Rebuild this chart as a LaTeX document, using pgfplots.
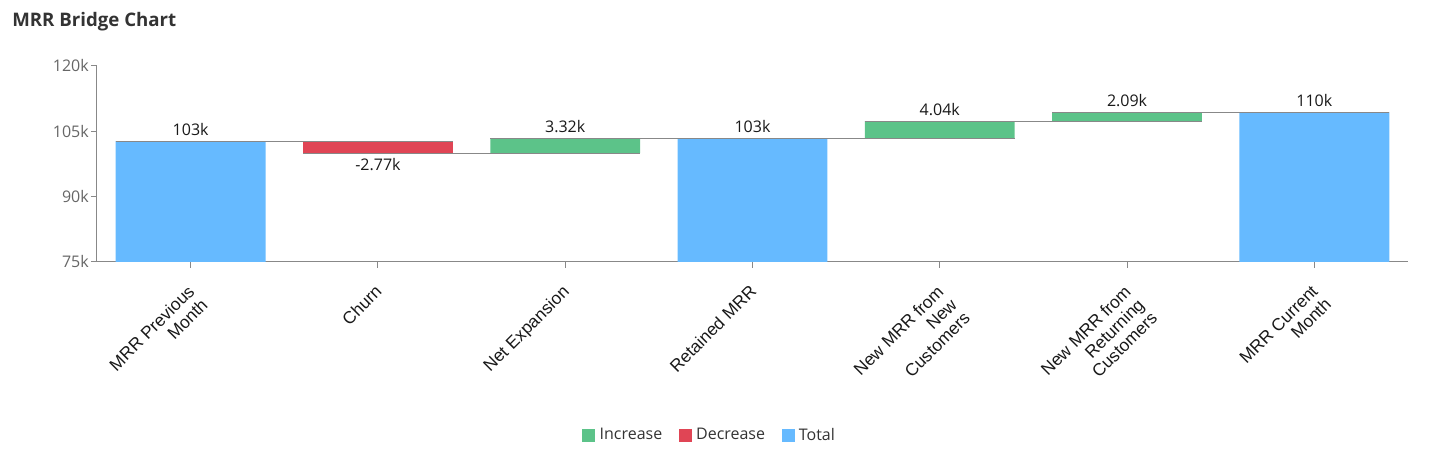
\documentclass[border=0pt]{standalone}
\usepackage{pgfplots}
\pgfplotsset{compat=1.18}
\usepackage{pgfplotstable}
\usepackage{fontspec}
\setmainfont{Open Sans}
\newfontfamily\catfont{Liberation Sans}
\definecolor{incgreen}{HTML}{5CC389}
\definecolor{decred}{HTML}{E04555}
\definecolor{totblue}{HTML}{66BAFF}
\definecolor{axgray}{HTML}{888888}
\definecolor{ticktext}{HTML}{666666}
\definecolor{titletext}{HTML}{333333}

\pgfplotstableread{
x base inc dec tot
0 0 0 0 102.75
1 99.98 0 2.77 0
2 99.98 3.32 0 0
3 0 0 0 103.30
4 103.30 4.04 0 0
5 107.34 2.09 0 0
6 0 0 0 109.43
}\bridge

\begin{document}
\begin{tikzpicture}
\useasboundingbox (0,0) rectangle (1084.5pt,337.5pt);
\node[anchor=west, font=\bfseries\fontsize{14}{16}\selectfont, text=titletext, inner sep=0pt] at (9pt,321pt) {MRR Bridge Chart};
\pgfplotsset{common/.style={
  scale only axis, width=983.25pt, height=147pt,
  at={(72.75pt,141pt)}, anchor=south west,
  xmin=-0.5, xmax=6.5, ymin=75, ymax=120,
}}
\begin{axis}[common,
  ybar stacked, bar width=0.8,
  axis x line*=bottom, axis y line*=left,
  axis line style={axgray, line width=0.75pt, -},
  tick align=outside, major tick length=4.5pt,
  tick style={axgray, line width=0.75pt},
  xtick={0,1,2,3,4,5,6},
  xticklabels={{MRR Previous\\Month},{Churn},{Net Expansion},{Retained MRR},{New MRR from\\New\\Customers},{New MRR from\\Returning\\Customers},{MRR Current\\Month}},
  xticklabel style={xshift=-3pt, yshift=-9pt, rotate=45, anchor=north east, align=right, font=\catfont\fontsize{13}{14}\selectfont, text=black!90, inner sep=2pt},
  ytick={75,90,105,120},
  yticklabels={75k,90k,105k,120k},
  yticklabel style={font=\fontsize{12}{14}\selectfont, text=ticktext, inner sep=1.5pt},
]
\addplot[draw=none, fill=none] table[x=x, y=base] {\bridge};
\addplot[draw=none, fill=incgreen] table[x=x, y=inc] {\bridge};
\addplot[draw=none, fill=decred] table[x=x, y=dec] {\bridge};
\addplot[draw=none, fill=totblue] table[x=x, y=tot] {\bridge};
\end{axis}
\begin{axis}[common, hide axis, clip=false,
  legend columns=3,
  legend style={at={(0.4676,-0.883)}, anchor=center, draw=none, fill=none,
    font=\fontsize{12}{14}\selectfont, text=titletext,
    /tikz/every odd column/.append style={column sep=1.5pt},
    /tikz/every even column/.append style={column sep=10.5pt}},
]
\addlegendimage{legend image code/.code={\fill[incgreen] (0pt,-4.5pt) rectangle (9pt,4.5pt);}}
\addlegendentry{Increase}
\addlegendimage{legend image code/.code={\fill[decred] (0pt,-4.5pt) rectangle (9pt,4.5pt);}}
\addlegendentry{Decrease}
\addlegendimage{legend image code/.code={\fill[totblue] (0pt,-4.5pt) rectangle (9pt,4.5pt);}}
\addlegendentry{Total}
\addplot[forget plot, axgray, line width=0.75pt, unbounded coords=jump] coordinates {
(-0.4,102.75) (1.4,102.75) (1.4,nan)
(0.6,99.98) (2.4,99.98) (2.4,nan)
(1.6,103.30) (3.4,103.30) (3.4,nan)
(2.6,103.30) (4.4,103.30) (4.4,nan)
(3.6,107.34) (5.4,107.34) (5.4,nan)
(4.6,109.43) (6.4,109.43)
};
\addplot[forget plot, only marks, mark=none, nodes near coords, point meta=explicit symbolic,
  nodes near coords style={anchor=south, inner sep=0pt, yshift=4pt, font=\fontsize{12}{14}\selectfont, text=black!90}]
  coordinates {(0,102.75)[103k] (2,103.30)[3.32k] (3,103.30)[103k] (4,107.34)[4.04k] (5,109.43)[2.09k] (6,109.43)[110k]};
\addplot[forget plot, only marks, mark=none, nodes near coords, point meta=explicit symbolic,
  nodes near coords style={anchor=north, inner sep=0pt, yshift=-4pt, font=\fontsize{12}{14}\selectfont, text=black!90}]
  coordinates {(1,99.98)[-2.77k]};
\end{axis}
\end{tikzpicture}
\end{document}
